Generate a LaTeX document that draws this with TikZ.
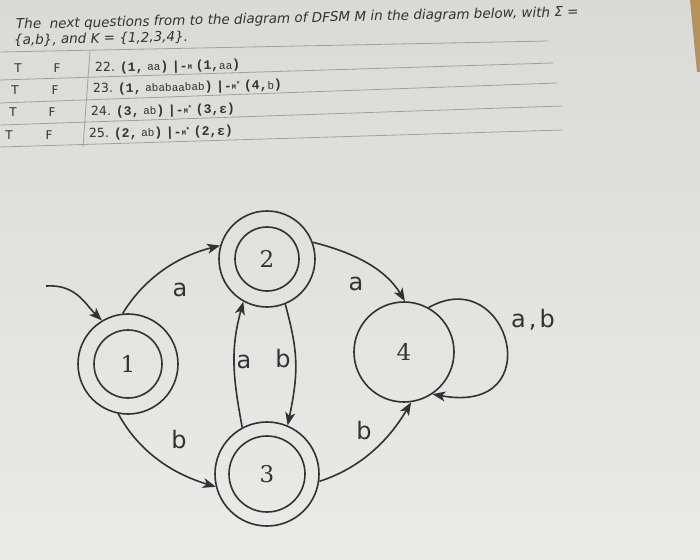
\documentclass[tikz,border=0pt]{standalone}
\usepackage{fontspec}
\usetikzlibrary{arrows.meta}
\newfontfamily\sansf{DejaVu Sans}
\newfontfamily\serf{DejaVu Serif}
\newfontfamily\monof{Liberation Mono}
\definecolor{ink}{RGB}{50,50,50}
\definecolor{paperA}{RGB}{218,218,215}
\definecolor{paperB}{RGB}{234,234,232}
\definecolor{rulec}{RGB}{160,160,158}
\definecolor{wood}{RGB}{185,145,85}
\newcommand{\mb}[1]{{\monof\bfseries\fontsize{13}{13}\selectfont #1}}
\newcommand{\ms}[1]{{\monof\fontsize{11}{11}\selectfont #1}}
\newcommand{\sn}[1]{{\sansf\fontsize{12.5}{12.5}\selectfont #1}}
\newcommand{\yields}{\mb{|-}{\monof\bfseries\fontsize{7}{7}\selectfont M}}
\newcommand{\ystar}{\raisebox{3.5pt}{\monof\bfseries\fontsize{7}{7}\selectfont *}}
\begin{document}
\begin{tikzpicture}[x=1pt,y=-1pt,
  stateo/.style={circle,draw=ink,line width=1.6pt,inner sep=0pt},
  statei/.style={circle,draw=ink,line width=1.6pt,inner sep=0pt,text=ink,font=\serf\fontsize{23}{23}\selectfont},
  edge/.style={draw=ink,line width=1.6pt,-{Stealth[length=13pt,width=10pt,inset=3.5pt]}},
  lab/.style={text=ink,font=\sansf\fontsize{24}{24}\selectfont,inner sep=0pt},
  hline/.style={draw=rulec,line width=0.8pt},
  tf/.style={text=ink,font=\sansf\fontsize{12}{12}\selectfont,anchor=base,inner sep=0pt},
  rowtxt/.style={text=ink,anchor=base west,inner sep=0pt,rotate=1.3,font=\sansf\fontsize{12}{12}\selectfont},
  ttl/.style={text=ink,font=\sansf\itshape\fontsize{13.5}{15}\selectfont,anchor=base west,inner sep=0pt,rotate=1.3}
]
\shade[top color=paperA,bottom color=paperB] (0,0) rectangle (700,559);
\useasboundingbox (0,0) rectangle (700,559);
\fill[wood] (690,0) -- (700,0) -- (700,72) -- (697,72) -- cycle;

% title
\node[ttl] (t1) at (16,29) {The\ \ next questions from to the diagram of DFSM M in the diagram below, with Σ =};
\node[ttl] (t2) at (14,45) {\{a,b\}, and K = \{1,2,3,4\}.};

% table rules
\draw[hline] (0,52) -- (548,41);
\draw[hline] (0,80) -- (553,63);
\draw[hline] (0,103) -- (557,83);
\draw[hline] (0,125) -- (562,106);
\draw[hline] (0,147) -- (563,130);
\draw[hline] (90,51) -- (83,147);

% T / F
\node[tf] (T1) at (18,73) {T}; \node[tf] (F1) at (57,73) {F};
\node[tf] (T2) at (15,95) {T}; \node[tf] (F2) at (55,95) {F};
\node[tf] (T3) at (13,116) {T}; \node[tf] (F3) at (52,116) {F};
\node[tf] (T4) at (9,139) {T}; \node[tf] (F4) at (49,139) {F};

% rows
\node[rowtxt] (r22) at (95,72) {\sn{22.} \mb{(1,} \ms{aa}\mb{)} \yields{} \mb{(1,}\ms{aa}\mb{)}};
\node[rowtxt] (r23) at (93,93) {\sn{23.} \mb{(1,} \ms{ababaabab}\mb{)} \yields\ystar{} \mb{(4,}\ms{b}\mb{)}};
\node[rowtxt] (r24) at (91,116) {\sn{24.} \mb{(3,} \ms{ab}\mb{)} \yields\ystar{} \mb{(3,ε)}};
\node[rowtxt] (r25) at (89,138) {\sn{25.} \mb{(2,} \ms{ab}\mb{)} \yields\ystar{} \mb{(2,ε)}};

% states
\node[stateo,minimum size=100pt] (s1) at (128,364) {};
\node[statei,minimum size=68pt] (s1i) at (s1) {1};
\node[stateo,minimum size=96pt] (s2) at (267,259) {};
\node[statei,minimum size=64pt] (s2i) at (s2) {2};
\node[stateo,minimum size=104pt] (s3) at (267,474) {};
\node[statei,minimum size=76pt] (s3i) at (s3) {3};
\node[stateo,minimum size=100pt,text=ink,font=\serf\fontsize{23}{23}\selectfont] (s4) at (404,352) {4};

% edges
\coordinate (init) at (46,286);
\draw[edge] (init) .. controls (76,284) and (85,304) .. (s1.121);
\draw[edge] (s1.96) .. controls (143,280) and (175,257) .. (s2.164);
\draw[edge] (s1.259) .. controls (138,450) and (170,473) .. (s3.194);
\draw[edge] (s3.118) .. controls (233,378) and (230,350) .. (s2.241);
\draw[edge] (s2.-68) .. controls (298,351) and (299,371) .. (s3.67);
\draw[edge] (s2.20) .. controls (352,252) and (385,268) .. (s4.89);
\draw[edge] (s3.-8) .. controls (361,468) and (389,440) .. (s4.-82);
\draw[edge] (s4.61) .. controls (509,262) and (551,416) .. (s4.-56);

% labels
\node[lab] (la12) at (180,290) {a};
\node[lab] (lb13) at (179,440) {b};
\node[lab] (la32) at (244,362) {a};
\node[lab] (lb23) at (283,359) {b};
\node[lab] (la24) at (356,284) {a};
\node[lab] (lb34) at (364,431) {b};
\node[lab,anchor=base] (lab44) at (533,327) {a\hspace{3pt},\hspace{3pt}b};
\end{tikzpicture}
\end{document}
